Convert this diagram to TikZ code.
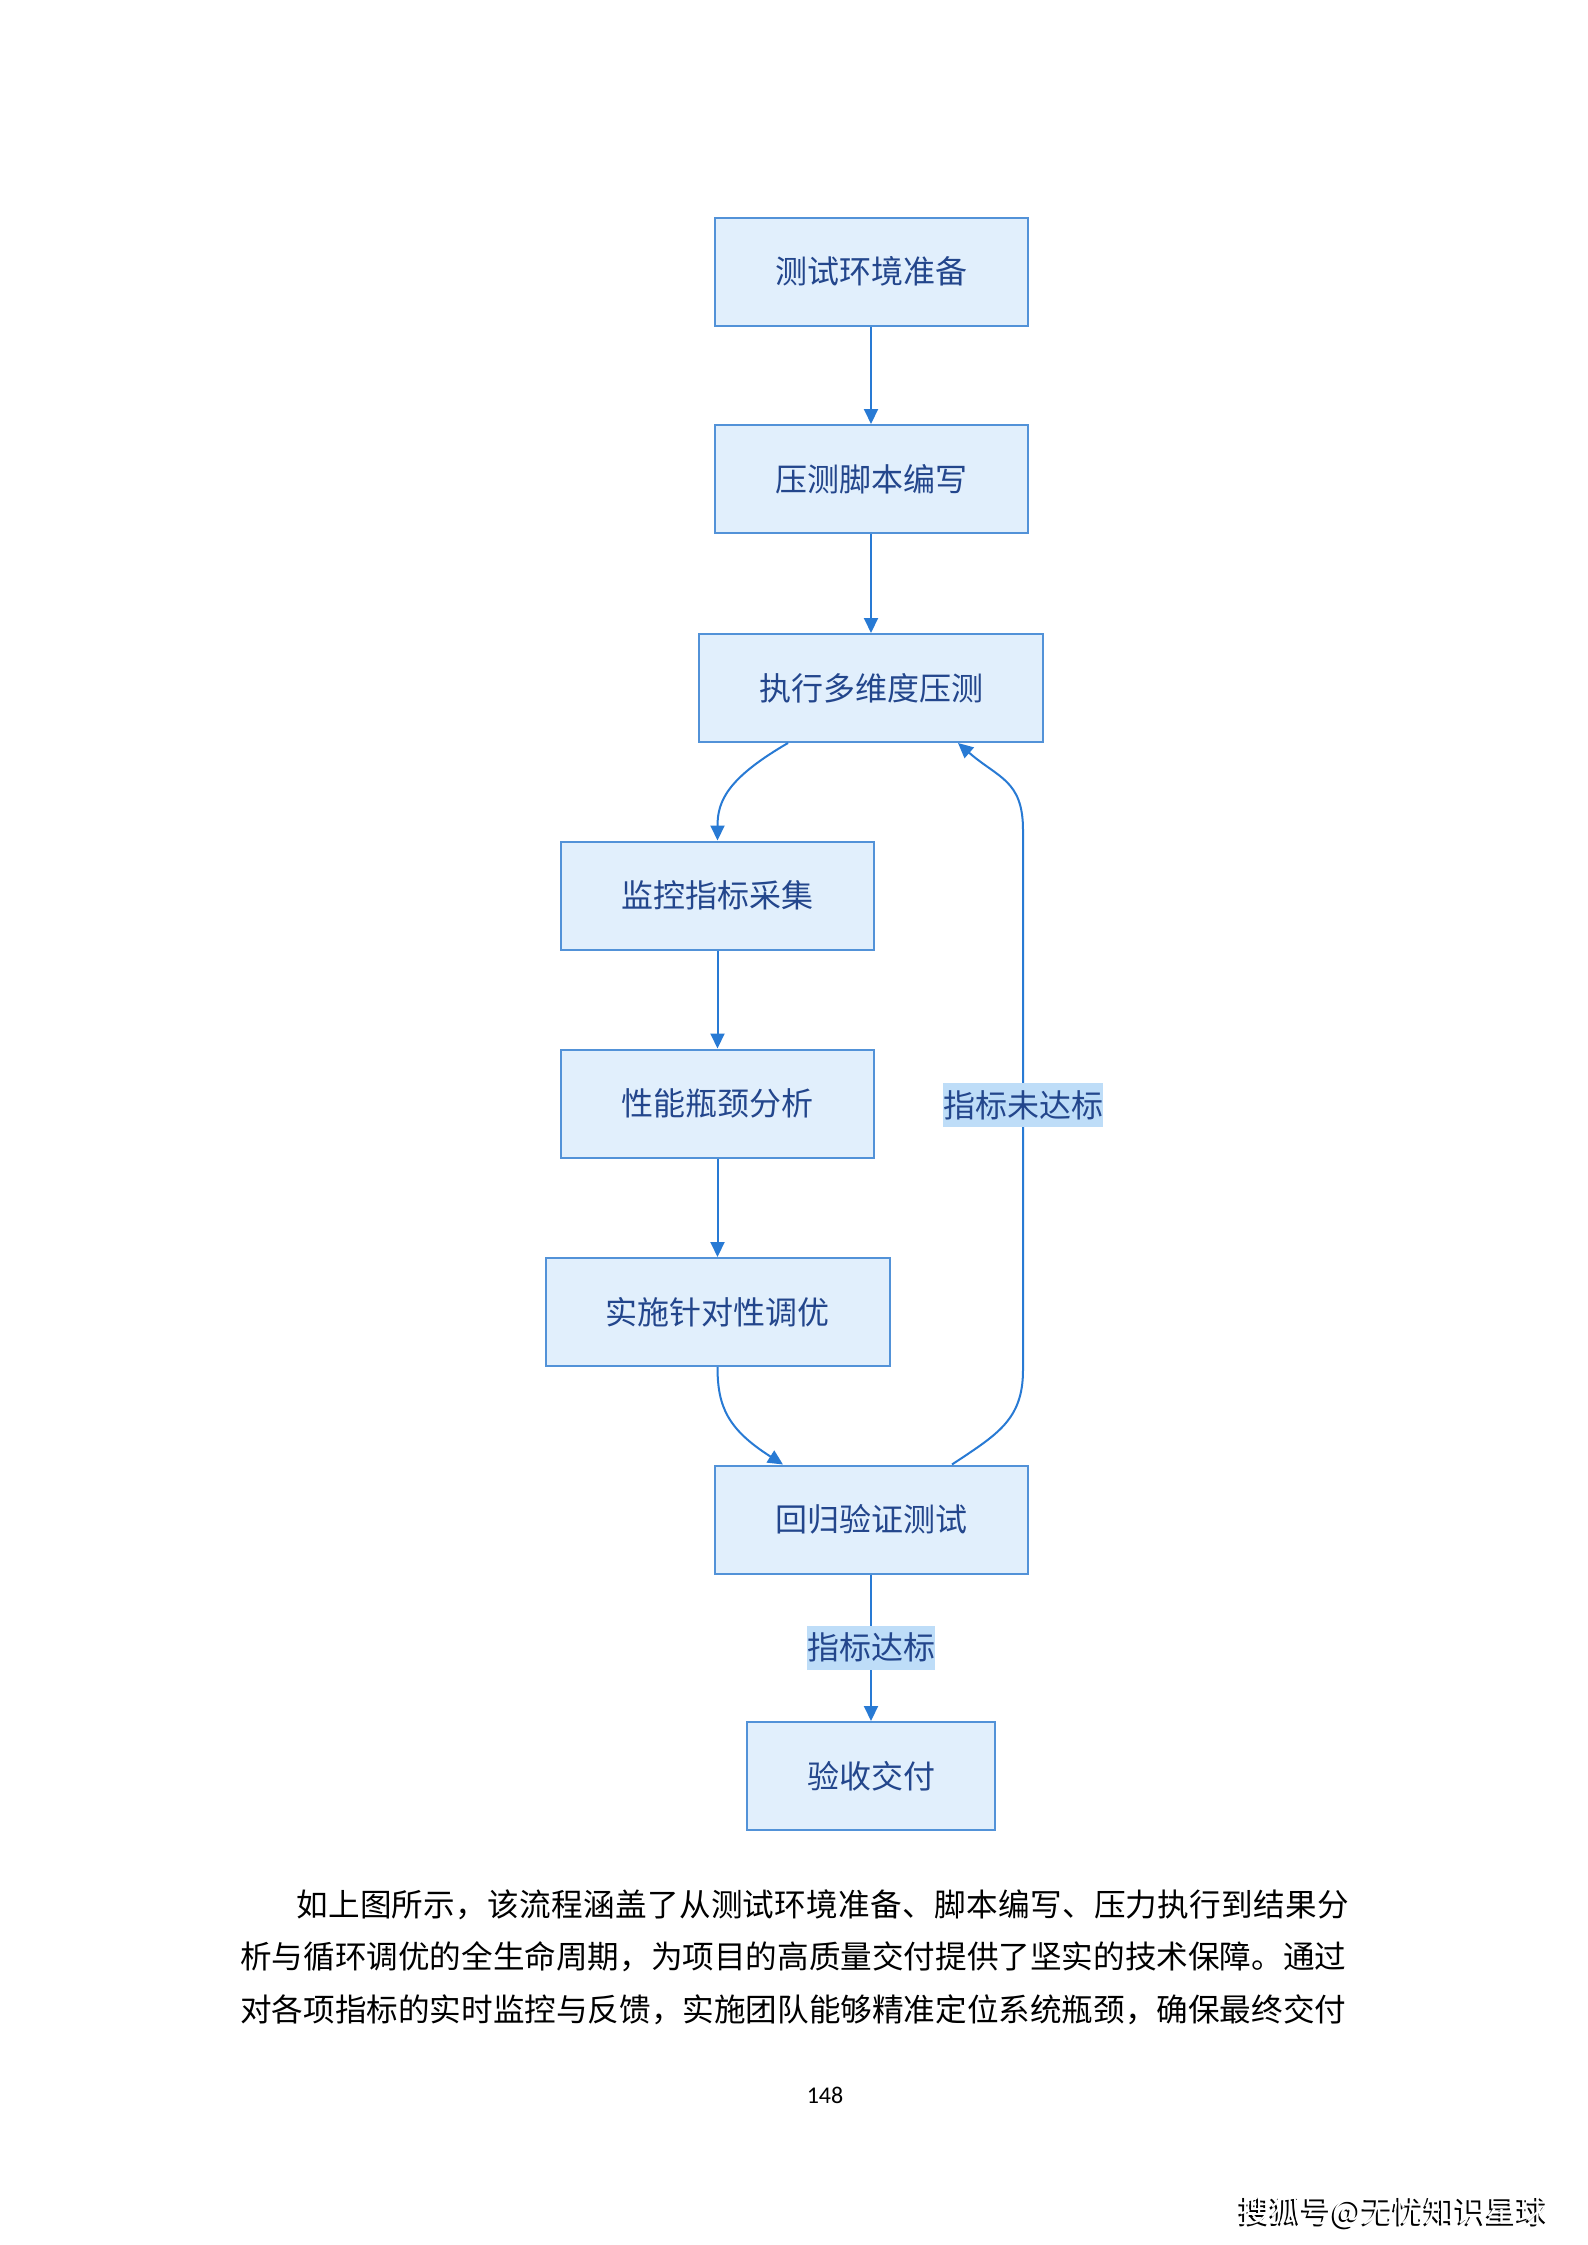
\documentclass[tikz,border=0pt]{standalone}
\usepackage{fontspec}
\setmainfont{Noto Sans CJK SC}
\newfontfamily\numfont{Carlito}
\usetikzlibrary{arrows.meta,positioning,calc}
\definecolor{boxfill}{RGB}{225,239,252}
\definecolor{boxline}{RGB}{82,146,216}
\definecolor{boxtext}{RGB}{35,70,140}
\definecolor{linkblue}{RGB}{40,122,212}
\definecolor{tagfill}{RGB}{190,221,248}

\begin{document}
\begin{tikzpicture}[x=1pt, y=-1pt,
    every node/.style={font=\fontsize{32}{38}\selectfont},
    flowbox/.style={draw=boxline, line width=2pt, fill=boxfill, text=boxtext, minimum width=313pt, minimum height=108pt, inner sep=0pt},
    widebox/.style={flowbox, minimum width=344pt},
    link/.style={draw=linkblue, line width=2pt, -{Triangle[length=15pt, width=14pt]}},
    tag/.style={fill=tagfill, text=boxtext, inner xsep=0pt, inner ysep=0pt, minimum height=44pt},
    bodyline/.style={anchor=west, inner sep=0pt, text=black, font=\fontsize{31.6}{38}\selectfont}]
    \fill[white] (0,0) rectangle (1587,2245);
    \useasboundingbox (0,0) rectangle (1587,2245);
    % flow steps
    \node[flowbox] (n1) at (871,271.5) {测试环境准备};
    \node[flowbox] (n2) at (871,479) {压测脚本编写};
    \node[widebox] (n3) at (871,688) {执行多维度压测};
    \node[flowbox] (n4) at (717.5,895.5) {监控指标采集};
    \node[flowbox] (n5) at (717.5,1103.5) {性能瓶颈分析};
    \node[widebox] (n6) at (717.5,1312) {实施针对性调优};
    \node[flowbox] (n7) at (871,1519.5) {回归验证测试};
    \node[flowbox, minimum width=248pt] (n8) at (871,1776) {验收交付};
    % connectors
    \draw[link] (n1) -- (n2);
    \draw[link] (n2) -- (n3);
    \draw[link] ([xshift=-83pt]n3.south) .. controls +(-60,35) and +(0,-40) .. (n4.north);
    \draw[link] (n4) -- (n5);
    \draw[link] (n5) -- (n6);
    \draw[link] (n6.south) .. controls +(0,40) and +(-55,-35) .. ([xshift=-88pt]n7.north);
    \draw[link] (n7) -- node[tag] {指标达标} (n8);
    % feedback loop
    \coordinate (loopb) at (1023,1370);
    \coordinate (loopt) at (1023,830);
    \draw[link] ([xshift=81pt]n7.north) .. controls +(45,-30) and +(0,50) .. (loopb)
        -- node[tag, pos=0.49] {指标未达标} (loopt)
        .. controls +(0,-50) and +(40,35) .. ([xshift=87pt]n3.south);
    % page text
    \node[bodyline] (p1) at (296,1905) {\addfontfeatures{LetterSpace=1.0}如上图所示，该流程涵盖了从测试环境准备、脚本编写、压力执行到结果分};
    \node[bodyline] (p2) at (240,1957) {析与循环调优的全生命周期，为项目的高质量交付提供了坚实的技术保障。通过};
    \node[bodyline] (p3) at (240,2010) {对各项指标的实时监控与反馈，实施团队能够精准定位系统瓶颈，确保最终交付};
    \node[font=\numfont\fontsize{24}{28}\selectfont] (pg) at (825,2095) {148};
    \node[font=\fontsize{31}{36}\selectfont, text=black] (fts) at (1392,2214) {搜狐号@无忧知识星球};
    \node[font=\fontsize{31}{36}\selectfont, text=white] (ft) at (1394,2212) {搜狐号@无忧知识星球};
\end{tikzpicture}
\end{document}
